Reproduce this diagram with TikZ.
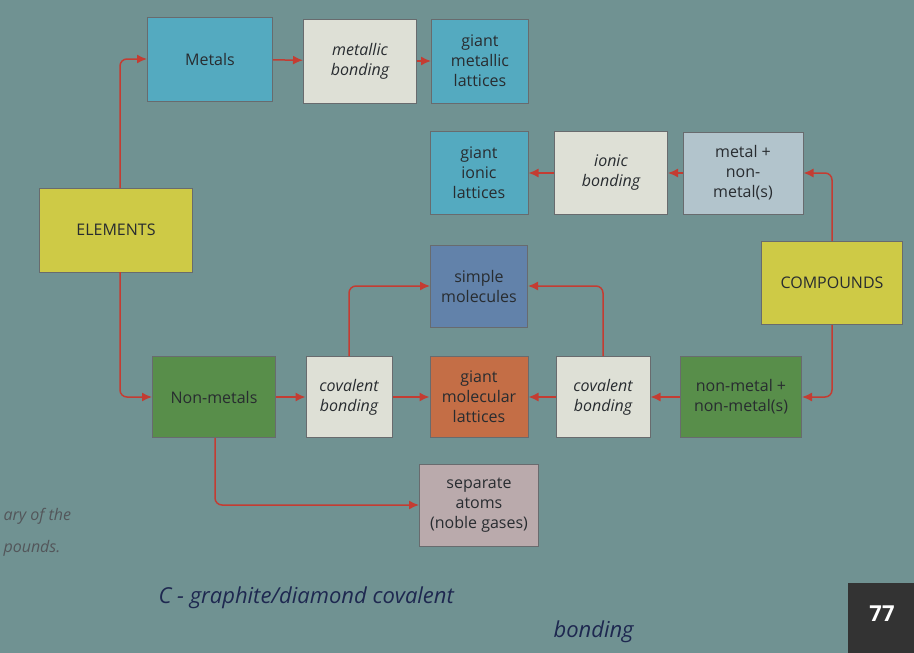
\documentclass[tikz,border=0pt]{standalone}
\usepackage{fontspec}
\setmainfont{Open Sans}
\usetikzlibrary{arrows.meta}
\definecolor{bg}{RGB}{112,146,146}
\definecolor{metal}{RGB}{84,170,192}
\definecolor{pale}{RGB}{222,224,214}
\definecolor{yel}{RGB}{206,202,70}
\definecolor{paleblue}{RGB}{178,196,204}
\definecolor{steel}{RGB}{98,130,170}
\definecolor{grn}{RGB}{88,142,74}
\definecolor{brn}{RGB}{196,110,70}
\definecolor{pink}{RGB}{186,170,172}
\definecolor{arr}{RGB}{196,60,50}
\definecolor{txt}{RGB}{40,44,48}
\definecolor{ink}{RGB}{30,40,80}
\tikzset{
 box/.style={draw=txt!70,line width=1pt,align=center,text=txt,font=\fontsize{16}{20}\selectfont,inner sep=0pt},
 conn/.style={draw=arr,line width=1.5pt,-{Latex[length=10pt,width=9pt]},rounded corners=7pt},
}
\newcommand{\bx}[7]{\node[box,fill=#6,minimum width=#3pt,minimum height=#4pt] (#1) at (#2) {#7};}
\begin{document}
\begin{tikzpicture}[x=1pt,y=-1pt]
\fill[bg] (0,0) rectangle (914,653);
\useasboundingbox (0,0) rectangle (914,653);
\bx{metals}{210,59}{125}{84}{}{metal}{Metals}
\bx{mb}{360,61}{113}{84}{}{pale}{\itshape metallic\\\itshape bonding}
\bx{gml}{480,61}{97}{84}{}{metal}{giant\\metallic\\lattices}
\bx{el}{116,230}{153}{84}{}{yel}{ELEMENTS}
\bx{gil}{479,173}{98}{83}{}{metal}{giant\\ionic\\lattices}
\bx{ib}{611,173}{113}{83}{}{pale}{\itshape ionic\\\itshape bonding}
\bx{mnm}{743,173}{120}{82}{}{paleblue}{metal +\\non-\\metal(s)}
\bx{comp}{832,283}{141}{83}{}{yel}{COMPOUNDS}
\bx{sm}{479,286}{97}{82}{}{steel}{simple\\molecules}
\bx{nm}{214,397}{123}{81}{}{grn}{Non-metals}
\bx{cb1}{349,397}{86}{81}{}{pale}{\itshape covalent\\\itshape bonding}
\bx{gmol}{479,397}{98}{81}{}{brn}{giant\\molecular\\lattices}
\bx{cb2}{603,397}{94}{81}{}{pale}{\itshape covalent\\\itshape bonding}
\bx{nmnm}{741,397}{121}{81}{}{grn}{non-metal +\\non-metal(s)}
\bx{sa}{479,505}{119}{82}{}{pink}{separate\\atoms\\(noble gases)}
\coordinate (elt) at (120,188);
\coordinate (elb) at (120,272);
\draw[conn] (elt) |- (metals.west);
\draw[conn] (elb) |- (nm.west);
\draw[conn] (metals) -- (mb);
\draw[conn] (mb) -- (gml);
\draw[conn] (mnm) -- (ib);
\draw[conn] (ib) -- (gil);
\draw[conn] (comp.north) |- (mnm.east);
\draw[conn] (comp.south) |- (nmnm.east);
\draw[conn] (nmnm) -- (cb2);
\draw[conn] (cb2) -- (gmol);
\draw[conn] (cb2.north) |- (sm.east);
\draw[conn] (nm) -- (cb1);
\draw[conn] (cb1) -- (gmol);
\draw[conn] (cb1.north) |- (sm.west);
\draw[conn] ([xshift=1pt]nm.south) |- (sa.west);
\node[anchor=west,text=txt!80,font=\fontsize{16}{18}\selectfont\itshape] (t1) at (0,516) {ary of the};
\node[anchor=west,text=txt!80,font=\fontsize{16}{18}\selectfont\itshape] (t2) at (0,548) {pounds.};
\fill[black!80] (848,583) rectangle (914,653);
\node[text=white!85,font=\fontsize{22}{24}\selectfont\bfseries] (pg) at (882,614) {77};
\node[text=ink,font=\fontsize{22}{24}\selectfont\itshape,anchor=west] (h1) at (155,598) {C - graphite/diamond covalent};
\node[text=ink,font=\fontsize{22}{24}\selectfont\itshape,anchor=west] (h2) at (550,632) {bonding};
\end{tikzpicture}
\end{document}
